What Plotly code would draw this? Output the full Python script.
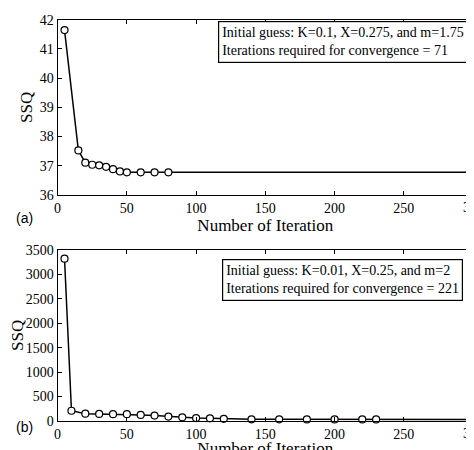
import plotly.graph_objects as go

# panel (a)
iter_a = [5, 15, 20, 25, 30, 35, 40, 45, 50, 60, 70, 80, 300]
ssq_a = [41.65, 37.52, 37.1, 37.03, 37.01, 36.96, 36.88, 36.8, 36.77, 36.77, 36.77, 36.77, 36.77]

# panel (b)
iter_b = [5, 10, 20, 30, 40, 50, 60, 70, 80, 90, 100, 110, 120, 140, 160, 180, 200, 220, 230, 300]
ssq_b = [3320, 210, 150, 145, 140, 140, 125, 110, 90, 75, 60, 55, 45, 35, 35, 33, 33, 32, 32, 30]

W, H = 474, 450
font = dict(family="Liberation Serif", color="black")

fig = go.Figure()
marker = dict(symbol="circle", size=7, color="white", line=dict(color="black", width=1.2))
fig.add_trace(go.Scatter(x=iter_a, y=ssq_a, mode="lines+markers", line=dict(color="black", width=1.5),
                         marker=marker, cliponaxis=False, xaxis="x", yaxis="y"))
fig.add_trace(go.Scatter(x=iter_b, y=ssq_b, mode="lines+markers", line=dict(color="black", width=1.5),
                         marker=marker, cliponaxis=False, xaxis="x2", yaxis="y2"))

ax = dict(showline=True, linecolor="black", linewidth=1, mirror="ticks", ticks="inside",
          ticklen=4, tickcolor="black", showgrid=False, zeroline=False,
          tickfont=dict(size=14, **font))
xd = [46 / W, 465 / W]
ticks_x = [0, 50, 100, 150, 200, 250]
fig.update_layout(
    width=W, height=H, margin=dict(l=0, r=0, t=0, b=0),
    paper_bgcolor="white", plot_bgcolor="white", showlegend=False, font=font,
    xaxis=dict(domain=xd, range=[0, 300], tickvals=ticks_x, anchor="y",
               title=dict(text="Number of Iteration", font=dict(size=17, **font), standoff=0), **ax),
    yaxis=dict(domain=[1 - 186 / H, 1 - 5 / H], range=[36, 42], dtick=1, anchor="x",
               title=dict(text="SSQ", font=dict(size=17, **font), standoff=2), **ax),
    xaxis2=dict(domain=xd, range=[0, 300], tickvals=ticks_x, anchor="y2",
                title=dict(text="Number of Iteration", font=dict(size=17, **font), standoff=0), **ax),
    yaxis2=dict(domain=[1 - 420 / H, 1 - 243 / H], range=[0, 3500], dtick=500, anchor="x2",
                title=dict(text="SSQ", font=dict(size=17, **font), standoff=2), **ax),
)

# the "300" end labels, cut at the right edge as in the reference
for yv in [1 - 189 / H, 1 - 423 / H]:
    fig.add_annotation(x=465 / W, y=yv, xref="paper", yref="paper", xanchor="center", yanchor="top",
                       showarrow=False, text="300", font=dict(size=14, **font))

box = dict(xref="paper", yref="paper", xanchor="right", yanchor="top", align="left",
           showarrow=False, bordercolor="black", borderwidth=1.2, bgcolor="white",
           borderpad=3, font=dict(size=14, **font))
fig.add_annotation(x=460 / W, y=1 - 6 / H,
                   text="Initial guess: K=0.1, X=0.275, and m=1.75<br>Iterations required for convergence = 71", **box)
fig.add_annotation(x=455 / W, y=1 - 252 / H,
                   text="Initial guess: K=0.01, X=0.25, and m=2<br>Iterations required for convergence = 221", **box)
fig.add_annotation(x=2 / W, y=1 - 210 / H, xref="paper", yref="paper", xanchor="left", showarrow=False,
                   text="(a)", font=dict(size=14, family="Liberation Sans", color="black"))
fig.add_annotation(x=2 / W, y=1 - 437 / H, xref="paper", yref="paper", xanchor="left", showarrow=False,
                   text="(b)", font=dict(size=14, family="Liberation Sans", color="black"))

fig.write_html("out.html")
